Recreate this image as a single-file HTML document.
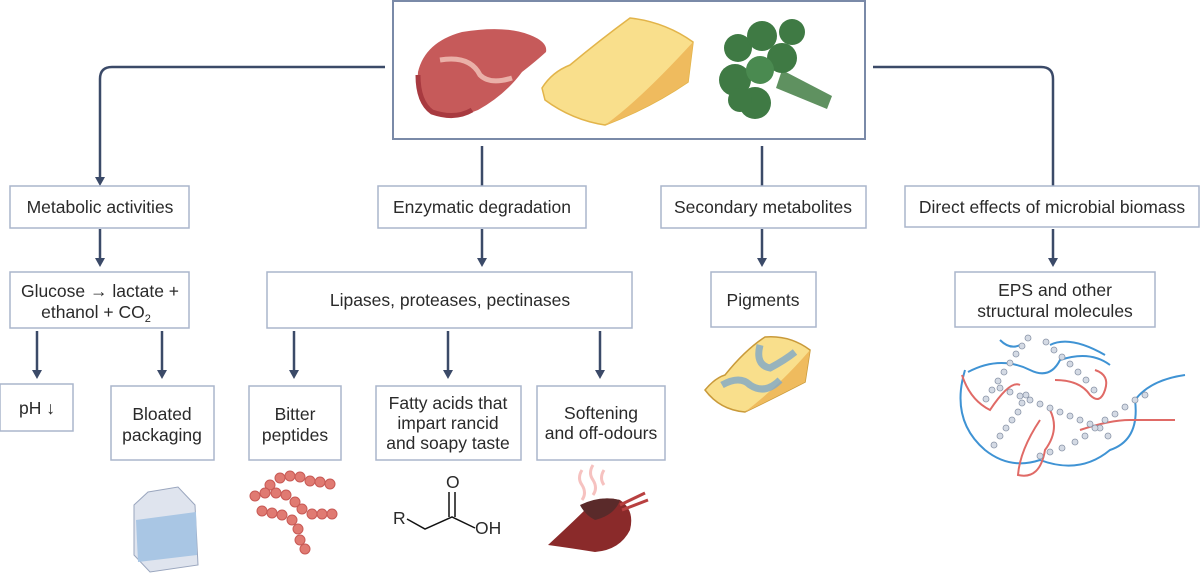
<!DOCTYPE html>
<html><head><meta charset="utf-8"><style>
body{margin:0;background:#fff}
svg{display:block}
text{font-family:"Liberation Sans",sans-serif;font-size:17.5px;fill:#2a2a2a}
.b{fill:#fff;stroke:#aab5cc;stroke-width:1.5}
.l{stroke:#3b4a68;stroke-width:2.5;fill:none}
.h{fill:#3b4a68}
</style></head><body>
<svg width="1200" height="575" viewBox="0 0 1200 575">
<!-- top box -->
<rect x="393" y="1" width="472" height="138" fill="#fff" stroke="#7a8aa8" stroke-width="2"/>
<!-- meat -->
<path d="M418,72 Q425,42 462,32 Q505,25 530,35 Q548,42 546,52 Q535,62 522,72 Q505,95 478,110 Q455,120 432,112 Q416,98 418,72z" fill="#c65a5a"/>
<path d="M440,60 Q470,55 480,75 Q490,85 512,78" stroke="#eab0a8" stroke-width="5" fill="none"/>
<path d="M418,75 Q418,102 432,112 Q455,120 472,110" stroke="#a83a40" stroke-width="5" fill="none"/>
<!-- cheese -->
<path d="M542,88 Q552,72 570,65 Q600,40 630,18 Q665,22 693,42 L688,82 Q650,108 605,125 Q572,120 545,100z" fill="#f9df8c" stroke="#e2b44a" stroke-width="1.5"/>
<path d="M693,42 L688,82 Q650,108 605,125 Q640,100 693,42z" fill="#efbb5e"/>
<!-- broccoli -->
<path d="M782,70 L832,96 L827,109 L776,88z" fill="#5f9160"/>
<circle cx="738" cy="48" r="14" fill="#3f7a44"/><circle cx="762" cy="36" r="15" fill="#3f7a44"/><circle cx="792" cy="32" r="13" fill="#3f7a44"/>
<circle cx="735" cy="80" r="16" fill="#3f7a44"/><circle cx="755" cy="103" r="16" fill="#3f7a44"/><circle cx="782" cy="58" r="15" fill="#3f7a44"/><circle cx="760" cy="70" r="14" fill="#4a8a50"/><circle cx="740" cy="100" r="12" fill="#3f7a44"/>
<!-- connectors -->
<path class="l" d="M385,67 H112 Q100,67 100,79 V178"/><polygon class="h" points="95,177 105,177 100,186"/>
<path class="l" d="M873,67 H1041 Q1053,67 1053,79 V186"/>
<path class="l" d="M482,146 V186"/>
<path class="l" d="M762,146 V186"/>
<g>
<path class="l" d="M100,229 V260"/><polygon class="h" points="95,258 105,258 100,267"/>
<path class="l" d="M482,229 V260"/><polygon class="h" points="477,258 487,258 482,267"/>
<path class="l" d="M762,229 V260"/><polygon class="h" points="757,258 767,258 762,267"/>
<path class="l" d="M1053,229 V260"/><polygon class="h" points="1048,258 1058,258 1053,267"/>
<path class="l" d="M37,331 V372"/><polygon class="h" points="32,370 42,370 37,379"/>
<path class="l" d="M162,331 V372"/><polygon class="h" points="157,370 167,370 162,379"/>
<path class="l" d="M294,331 V372"/><polygon class="h" points="289,370 299,370 294,379"/>
<path class="l" d="M448,331 V372"/><polygon class="h" points="443,370 453,370 448,379"/>
<path class="l" d="M600,331 V372"/><polygon class="h" points="595,370 605,370 600,379"/>
</g>
<!-- boxes -->
<rect class="b" x="10" y="186" width="179" height="42"/><text x="100" y="213" text-anchor="middle">Metabolic activities</text>
<rect class="b" x="378" y="186" width="208" height="42"/><text x="482" y="213" text-anchor="middle">Enzymatic degradation</text>
<rect class="b" x="661" y="186" width="205" height="42"/><text x="763" y="213" text-anchor="middle">Secondary metabolites</text>
<rect class="b" x="905" y="186" width="294" height="41"/><text x="1052" y="213" text-anchor="middle">Direct effects of microbial biomass</text>
<rect class="b" x="10" y="272" width="179" height="56"/><text x="100" y="297" text-anchor="middle">Glucose → lactate +</text><text x="96" y="318" text-anchor="middle">ethanol + CO<tspan font-size="11" dy="4">2</tspan></text>
<rect class="b" x="267" y="272" width="365" height="56"/><text x="450" y="306" text-anchor="middle">Lipases, proteases, pectinases</text>
<rect class="b" x="711" y="272" width="105" height="55"/><text x="763" y="306" text-anchor="middle">Pigments</text>
<rect class="b" x="955" y="272" width="200" height="55"/><text x="1055" y="296" text-anchor="middle">EPS and other</text><text x="1055" y="317" text-anchor="middle">structural molecules</text>
<rect class="b" x="0" y="384" width="73" height="47"/><text x="37" y="414" text-anchor="middle">pH ↓</text>
<rect class="b" x="111" y="386" width="103" height="74"/><text x="162" y="420" text-anchor="middle">Bloated</text><text x="162" y="441" text-anchor="middle">packaging</text>
<rect class="b" x="249" y="386" width="92" height="74"/><text x="295" y="420" text-anchor="middle">Bitter</text><text x="295" y="441" text-anchor="middle">peptides</text>
<rect class="b" x="376" y="386" width="145" height="74"/><text x="448" y="409" text-anchor="middle">Fatty acids that</text><text x="448" y="429" text-anchor="middle">impart rancid</text><text x="448" y="449" text-anchor="middle">and soapy taste</text>
<rect class="b" x="537" y="386" width="128" height="74"/><text x="601" y="419" text-anchor="middle">Softening</text><text x="601" y="439" text-anchor="middle">and off-odours</text>
<!-- carton -->
<path d="M148,492 L178,487 L195,505 L198,565 L150,572 L134,555 L134,505z" fill="#dfe4ee" stroke="#9aa6be"/>
<path d="M136,520 L196,512 L197,555 L138,562z" fill="#a9c6e4"/>
<!-- peptides -->
<g fill="#e07a72" stroke="#c85a55" stroke-width="1">
<circle cx="270" cy="485" r="5"/><circle cx="280" cy="478" r="5"/><circle cx="290" cy="476" r="5"/><circle cx="300" cy="477" r="5"/><circle cx="310" cy="481" r="5"/><circle cx="320" cy="482" r="5"/><circle cx="330" cy="484" r="5"/>
<circle cx="255" cy="496" r="5"/><circle cx="265" cy="493" r="5"/><circle cx="276" cy="493" r="5"/><circle cx="286" cy="495" r="5"/><circle cx="295" cy="502" r="5"/><circle cx="302" cy="509" r="5"/><circle cx="312" cy="514" r="5"/><circle cx="322" cy="514" r="5"/><circle cx="332" cy="514" r="5"/>
<circle cx="262" cy="511" r="5"/><circle cx="272" cy="513" r="5"/><circle cx="282" cy="515" r="5"/><circle cx="292" cy="520" r="5"/><circle cx="298" cy="529" r="5"/><circle cx="300" cy="540" r="5"/><circle cx="305" cy="549" r="5"/>
</g>
<!-- fatty acid -->
<path d="M407,519 L425,529 L452,517 L475,528 M449,517 V492 M455,517 V492" stroke="#111" stroke-width="1.5" fill="none"/>
<text x="393" y="524" font-size="16">R</text><text x="446" y="488" font-size="16">O</text><text x="475" y="534" font-size="16">OH</text>
<!-- beet -->
<path d="M548,545 Q575,520 590,505 Q600,495 620,500 Q635,510 630,530 Q620,550 595,552 Q570,548 548,545z" fill="#8a2a2a"/>
<path d="M580,505 Q600,495 620,500 Q615,515 595,520 Q585,515 580,505z" fill="#5a2a2a"/>
<path d="M620,505 L645,493 M622,510 L648,500" stroke="#b84040" stroke-width="3"/>
<path d="M582,470 q-5,8 0,15 q5,8 0,15 M593,465 q-5,8 0,15 q5,8 0,15 M604,470 q-5,8 0,15" stroke="#f6c2c0" stroke-width="3" fill="none"/>
<!-- blue cheese -->
<path d="M705,390 Q715,378 725,375 Q745,350 765,337 Q790,335 810,350 L805,382 Q770,400 745,412 Q720,410 705,390z" fill="#f9df8c" stroke="#c99a3a" stroke-width="1.5"/>
<path d="M810,350 L805,382 Q770,400 745,412 Q780,385 810,350z" fill="#efbb5e"/>
<path d="M722,385 Q740,375 750,385 Q765,395 780,380 M760,345 Q755,365 770,368 Q785,360 795,352" stroke="#7ea8c8" stroke-width="7" fill="none" opacity="0.8"/>
<!-- EPS network -->
<g fill="none" stroke-width="2">
<path d="M965,370 Q950,420 985,450 Q1010,470 1040,460 Q1080,475 1110,450 Q1140,440 1135,400 Q1150,380 1185,375" stroke="#3f93d4"/>
<path d="M968,372 Q1000,355 1030,370 Q1050,380 1060,360 Q1090,350 1110,365 M1050,345 Q1070,335 1105,355 M1000,340 Q1010,350 1020,345" stroke="#3f93d4"/>
<path d="M962,375 Q970,400 990,410 Q1010,380 1020,385 M1040,420 Q1020,450 1018,475 Q1040,480 1045,450 Q1060,430 1050,410 M1055,380 Q1080,380 1090,395 Q1100,405 1105,390 Q1110,375 1095,370 M1080,430 Q1110,420 1130,420 Q1160,420 1175,420" stroke="#e06a66"/>
</g>
<g fill="#d4dae4" stroke="#8a95a8" stroke-width="0.8">
<circle cx="1028" cy="338" r="3"/><circle cx="1022" cy="346" r="3"/><circle cx="1016" cy="354" r="3"/><circle cx="1010" cy="363" r="3"/><circle cx="1004" cy="372" r="3"/><circle cx="998" cy="381" r="3"/><circle cx="992" cy="390" r="3"/><circle cx="986" cy="399" r="3"/>
<circle cx="1046" cy="342" r="3"/><circle cx="1054" cy="350" r="3"/><circle cx="1062" cy="357" r="3"/><circle cx="1070" cy="364" r="3"/><circle cx="1078" cy="372" r="3"/><circle cx="1086" cy="380" r="3"/><circle cx="1094" cy="390" r="3"/>
<circle cx="1000" cy="388" r="3"/><circle cx="1010" cy="392" r="3"/><circle cx="1020" cy="396" r="3"/><circle cx="1030" cy="400" r="3"/><circle cx="1040" cy="404" r="3"/><circle cx="1050" cy="408" r="3"/><circle cx="1060" cy="412" r="3"/><circle cx="1070" cy="416" r="3"/><circle cx="1080" cy="420" r="3"/><circle cx="1090" cy="424" r="3"/><circle cx="1100" cy="428" r="3"/><circle cx="1108" cy="436" r="3"/>
<circle cx="1145" cy="395" r="3"/><circle cx="1135" cy="400" r="3"/><circle cx="1125" cy="407" r="3"/><circle cx="1115" cy="414" r="3"/><circle cx="1105" cy="420" r="3"/><circle cx="1095" cy="428" r="3"/><circle cx="1085" cy="436" r="3"/><circle cx="1075" cy="442" r="3"/><circle cx="1062" cy="448" r="3"/><circle cx="1050" cy="452" r="3"/><circle cx="1040" cy="456" r="3"/>
<circle cx="1026" cy="395" r="3"/><circle cx="1022" cy="403" r="3"/><circle cx="1018" cy="412" r="3"/><circle cx="1012" cy="420" r="3"/><circle cx="1006" cy="428" r="3"/><circle cx="1000" cy="436" r="3"/><circle cx="994" cy="445" r="3"/>
</g>
</svg>
</body></html>
